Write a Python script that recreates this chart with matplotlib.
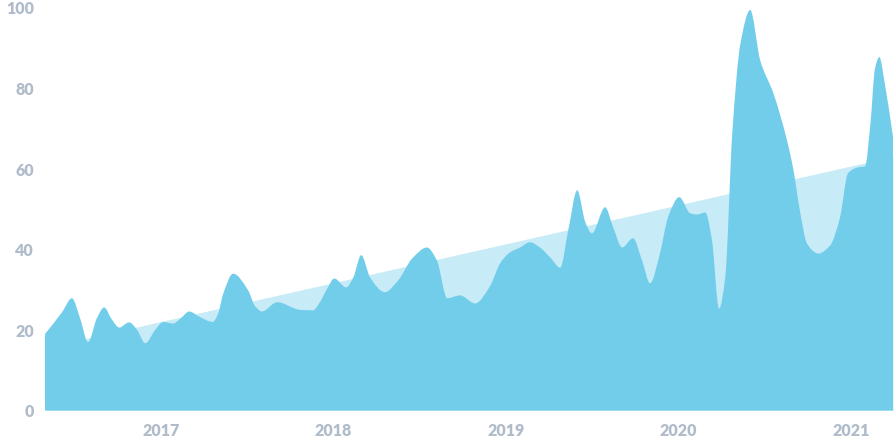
import numpy as np
import matplotlib
matplotlib.use('Agg')
import matplotlib.pyplot as plt
import matplotlib.dates as mdates
from matplotlib.path import Path
from matplotlib.patches import PathPatch
import pandas as pd

# values
dates = ['2016-05-01', '2016-06-06', '2016-06-27', '2016-07-14', '2016-07-31',
         '2016-08-19', '2016-09-03', '2016-09-20', '2016-10-05', '2016-10-26',
         '2016-11-12', '2016-11-29', '2016-12-20', '2017-01-06', '2017-01-27',
         '2017-02-13', '2017-03-02', '2017-03-25', '2017-04-21', '2017-05-02',
         '2017-05-13', '2017-06-03', '2017-07-05', '2017-07-19', '2017-08-03',
         '2017-09-04', '2017-10-23', '2017-11-19', '2017-12-04', '2017-12-19',
         '2018-01-03', '2018-01-28', '2018-02-12', '2018-03-01', '2018-03-20',
         '2018-04-20', '2018-05-18', '2018-06-17', '2018-07-18', '2018-08-08',
         '2018-08-30', '2018-09-26', '2018-10-28', '2018-11-29', '2018-12-20',
         '2019-01-10', '2019-01-31', '2019-02-21', '2019-03-14', '2019-04-05',
         '2019-04-26', '2019-05-13', '2019-06-01', '2019-06-18', '2019-07-02',
         '2019-07-30', '2019-08-16', '2019-09-04', '2019-09-27', '2019-10-16',
         '2019-11-02', '2019-11-23', '2019-12-10', '2020-01-03', '2020-01-26',
         '2020-02-10', '2020-02-27', '2020-03-12', '2020-03-27', '2020-04-09',
         '2020-04-24', '2020-05-11', '2020-06-01', '2020-06-22', '2020-07-20',
         '2020-08-18', '2020-08-31', '2020-09-15', '2020-09-29', '2020-10-23',
         '2020-11-17', '2020-12-08', '2020-12-25', '2021-01-15', '2021-01-30',
         '2021-02-10', '2021-02-20', '2021-03-01', '2021-03-13', '2021-03-30']
values = [19.0, 24.4, 27.9, 23.0, 17.0,
          23.0, 25.6, 22.5, 20.6, 21.9,
          20.0, 16.7, 20.0, 22.0, 21.6,
          23.0, 24.6, 23.2, 22.0, 24.0,
          29.0, 34.0, 29.8, 26.0, 24.6,
          26.9, 25.0, 24.9, 27.0, 30.3,
          32.8, 30.6, 33.0, 38.6, 33.0,
          29.4, 32.3, 37.8, 40.5, 37.3,
          27.9, 28.6, 26.6, 31.0, 36.6,
          39.3, 40.5, 41.8, 40.5, 38.0,
          35.5, 44.8, 54.7, 46.8, 44.0,
          50.5, 45.5, 40.5, 42.8, 37.3,
          31.6, 39.0, 48.0, 53.0, 49.0,
          48.7, 49.2, 42.3, 25.3, 33.0,
          68.9, 91.0, 99.5, 87.0, 78.8,
          67.0, 60.0, 49.0, 41.5, 39.0,
          41.0, 48.0, 59.0, 60.4, 60.7,
          71.0, 85.0, 87.8, 81.0, 68.0]
trend_dates = ['2016-05-01', '2021-03-30']
trend_values = [15.6, 63.1]

years = ['2017', '2018', '2019', '2020', '2021']
y_ticks = [0, 20, 40, 60, 80, 100]

main_color = '#72cdea'
trend_color = '#c7ebf7'
label_color = '#b1bccb'


def smooth_area_path(x, y):
    # monotone cubic (like d3 curveMonotoneX) drawn as bezier segments, closed to y=0
    x = np.asarray(x, float)
    y = np.asarray(y, float)
    h = np.diff(x)
    d = np.diff(y) / h
    m = np.zeros_like(y)
    m[0], m[-1] = d[0], d[-1]
    for i in range(1, len(y) - 1):
        if d[i - 1] * d[i] > 0:
            w1 = 2 * h[i] + h[i - 1]
            w2 = h[i] + 2 * h[i - 1]
            m[i] = (w1 + w2) / (w1 / d[i - 1] + w2 / d[i])
    verts = [(x[0], 0), (x[0], y[0])]
    codes = [Path.MOVETO, Path.LINETO]
    for i in range(len(x) - 1):
        verts += [(x[i] + h[i] / 3, y[i] + m[i] * h[i] / 3),
                  (x[i + 1] - h[i] / 3, y[i + 1] - m[i + 1] * h[i] / 3),
                  (x[i + 1], y[i + 1])]
        codes += [Path.CURVE4] * 3
    verts += [(x[-1], 0), (x[0], 0)]
    codes += [Path.LINETO, Path.CLOSEPOLY]
    return Path(verts, codes)


xn = mdates.date2num(pd.to_datetime(dates))
tn = mdates.date2num(pd.to_datetime(trend_dates))

fig = plt.figure(figsize=(8.96, 4.48), dpi=100)
ax = fig.add_axes([45 / 896, 37.5 / 448, 848 / 896, 402.5 / 448])

ax.fill_between(tn, 0, trend_values, color=trend_color, lw=0, zorder=1)
ax.add_patch(PathPatch(smooth_area_path(xn, values), facecolor=main_color,
                       edgecolor='none', zorder=2))

ax.set_xlim(xn[0], xn[-1])
ax.set_ylim(0, 100)
ax.set_yticks(y_ticks)
ax.set_xticks(mdates.date2num(pd.to_datetime([y + '-01-01' for y in years])))
ax.set_xticklabels(years)
for s in ax.spines.values():
    s.set_visible(False)
ax.tick_params(length=0, labelsize=11.5, labelcolor=label_color)
ax.tick_params(axis='y', pad=8)
ax.tick_params(axis='x', pad=9)
for lab in ax.get_xticklabels() + ax.get_yticklabels():
    lab.set_fontfamily('Lato')
    lab.set_fontweight('heavy')

fig.savefig('out.png', dpi=100)
